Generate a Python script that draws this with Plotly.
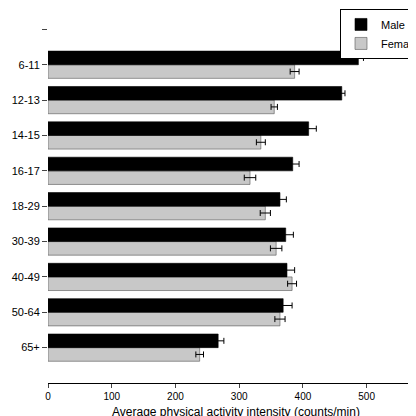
import plotly.graph_objects as go

groups = ["6-11", "12-13", "14-15", "16-17", "18-29", "30-39", "40-49", "50-64", "65+"]
male = [487, 461, 409, 384, 364, 373, 375, 369, 267]
male_err = [8, 5, 12, 10, 10, 12, 12, 14, 9]
female = [387, 355, 334, 317, 341, 358, 383, 364, 238]
female_err = [7, 5, 7, 9, 8, 9, 7, 8, 6]
xticks = [0, 100, 200, 300, 400, 500]

ypos = [9 - i for i in range(len(groups))]

fig = go.Figure()
fig.add_trace(go.Bar(y=ypos, x=female, orientation="h", name="Female",
                     marker=dict(color="#c8c8c8", line=dict(color="#555", width=0.6)),
                     error_x=dict(type="data", array=female_err, color="black", thickness=1, width=3)))
fig.add_trace(go.Bar(y=ypos, x=male, orientation="h", name="Male",
                     marker=dict(color="black", line=dict(color="black", width=0.6)),
                     error_x=dict(type="data", array=male_err, color="black", thickness=1, width=3)))

fig.update_layout(
    width=416, height=416,
    margin=dict(l=40, r=0, t=9, b=41),
    plot_bgcolor="white", paper_bgcolor="white",
    barmode="group", bargap=0.23, bargroupgap=0,
    font=dict(family="Liberation Sans, Arial", size=10, color="black"),
    showlegend=True,
    legend=dict(x=1.0, y=1.022, xanchor="right", yanchor="top", traceorder="reversed",
                bordercolor="black", borderwidth=1, bgcolor="white",
                font=dict(size=11)),
    xaxis=dict(range=[0, 590], tickvals=xticks, showline=True, linecolor="black",
               ticks="outside", ticklen=4, showgrid=False, zeroline=False,
               title=dict(text="Average physical activity intensity (counts/min)",
                          font=dict(size=12), standoff=6)),
    yaxis=dict(range=[0, 10.35], tickvals=ypos + [10], ticktext=groups + [""],
               ticks="outside", ticklen=5, showline=False, showgrid=False,
               zeroline=False, tickfont=dict(size=11)),
)

fig.write_html("out.html", config={"displayModeBar": False})
